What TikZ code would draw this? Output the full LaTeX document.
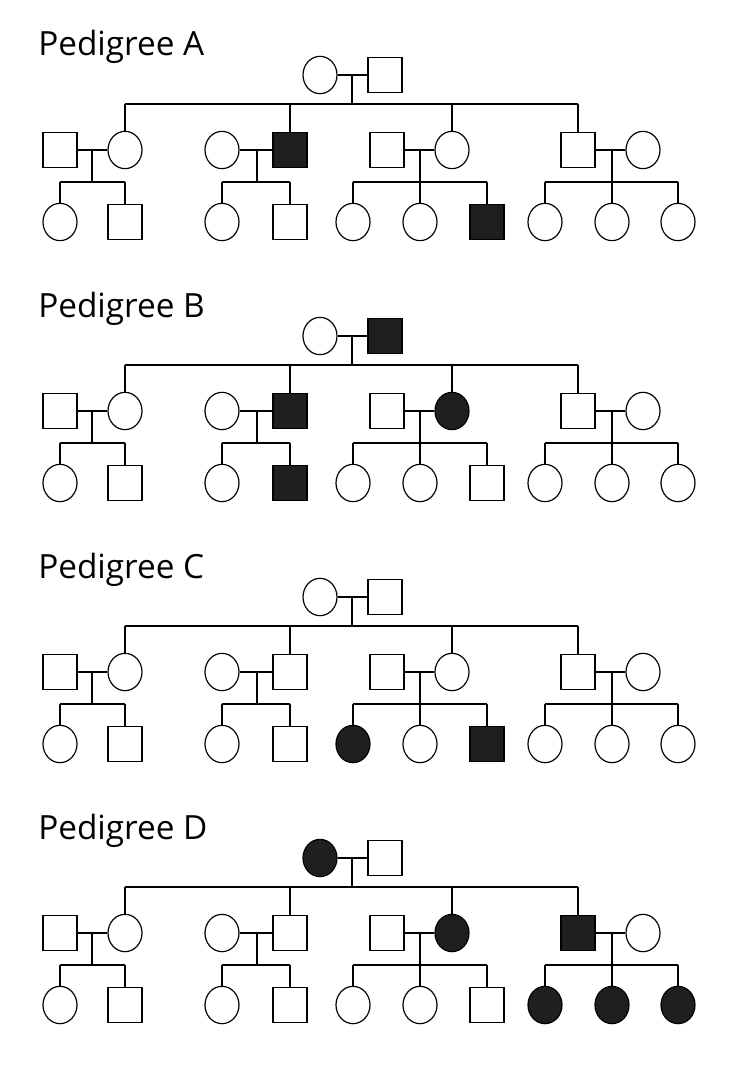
\documentclass[tikz,border=0pt]{standalone}
\usepackage{fontspec}
\setmainfont{Open Sans}
\usetikzlibrary{shapes.geometric}
\tikzset{
  pc/.style={ellipse,draw,line width=0.9pt,minimum width=25.5pt,minimum height=28pt,inner sep=0pt,fill=white},
  ps/.style={rectangle,draw,line width=0.9pt,minimum width=25.5pt,minimum height=26.5pt,inner sep=0pt,fill=white},
  aff/.style={fill=black!88},
  ln/.style={line width=0.9pt},
  ttl/.style={anchor=base west,font=\fontsize{25}{28}\selectfont,inner sep=0pt}
}
\newcommand{\ped}[3]{%
\begin{scope}[yshift=-#1*0.75pt,
  n1/.style={},n2/.style={},n3/.style={},n4/.style={},n5/.style={},n6/.style={},n7/.style={},n8/.style={},n9/.style={},n10/.style={},n11/.style={},n12/.style={},n13/.style={},n14/.style={},n15/.style={},n16/.style={},n17/.style={},n18/.style={},n19/.style={},n20/.style={},n21/.style={},n22/.style={},#3]
  \node[ttl] (t) at (38,56) {Pedigree #2};
  \coordinate (j0) at (352,75);
  \coordinate (b0) at (352,104);
  \coordinate (bl) at (125,104); \coordinate (bm1) at (290,104); \coordinate (bm2) at (452,104); \coordinate (br) at (578,104);
  \coordinate (j1) at (92,150); \coordinate (j2) at (257,150); \coordinate (j3) at (420,150); \coordinate (j4) at (612,150);
  \coordinate (k1) at (92,182); \coordinate (k2) at (257,182); \coordinate (k3) at (420,182); \coordinate (k4) at (612,182);
  \draw[ln] (j0)--(b0) (bl)--(br);
  \draw[ln] (j1)--(k1) (j2)--(k2) (j3)--(k3) (j4)--(k4);
  \draw[ln] (60,182)--(125,182) (222,182)--(290,182) (353,182)--(487,182) (545,182)--(678,182);
  \node[pc,n1] (a1) at (320,75) {}; \node[ps,n2] (a2) at (385,75) {};
  \node[ps,n3] (a3) at (60,150) {}; \node[pc,n4] (a4) at (125,150) {};
  \node[pc,n5] (a5) at (222,150) {}; \node[ps,n6] (a6) at (290,150) {};
  \node[ps,n7] (a7) at (387,150) {}; \node[pc,n8] (a8) at (452,150) {};
  \node[ps,n9] (a9) at (578,150) {}; \node[pc,n10] (a10) at (643,150) {};
  \draw[ln] (a1)--(a2) (a3)--(a4) (a5)--(a6) (a7)--(a8) (a9)--(a10);
  \draw[ln] (bl)--(a4) (bm1)--(a6) (bm2)--(a8) (br)--(a9);
  \node[pc,n11] (a11) at (60,222) {}; \node[ps,n12] (a12) at (125,222) {};
  \node[pc,n13] (a13) at (222,222) {}; \node[ps,n14] (a14) at (290,222) {};
  \node[pc,n15] (a15) at (353,222) {}; \node[pc,n16] (a16) at (420,222) {}; \node[ps,n17] (a17) at (487,222) {};
  \node[pc,n18] (a18) at (545,222) {}; \node[pc,n19] (a19) at (612,222) {}; \node[pc,n20] (a20) at (678,222) {};
  \foreach \x/\n in {60/11,125/12,222/13,290/14,353/15,420/16,487/17,545/18,612/19,678/20} \draw[ln] (\x,182)--(a\n);
\end{scope}}
\begin{document}
\begin{tikzpicture}[x=0.75pt,y=-0.75pt]
\useasboundingbox (0,0) rectangle (752,1074);
\ped{0}{A}{n6/.style={aff},n17/.style={aff}}
\ped{261}{B}{n2/.style={aff},n6/.style={aff},n8/.style={aff},n14/.style={aff}}
\ped{522}{C}{n15/.style={aff},n17/.style={aff}}
\ped{783}{D}{n1/.style={aff},n8/.style={aff},n9/.style={aff},n18/.style={aff},n19/.style={aff},n20/.style={aff}}
\end{tikzpicture}
\end{document}
